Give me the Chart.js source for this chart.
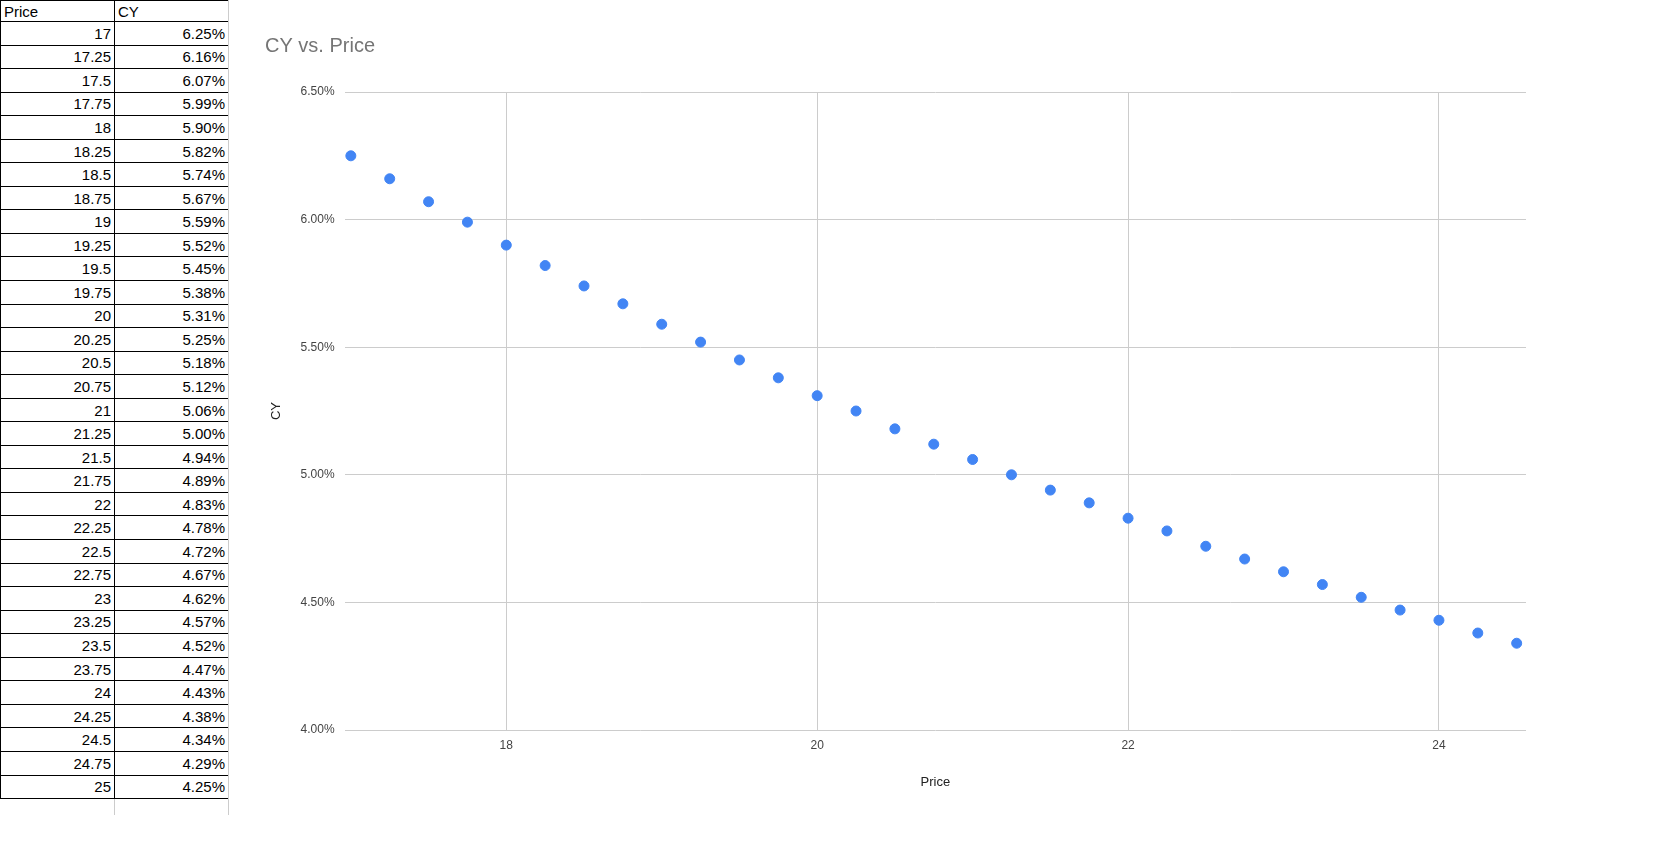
<!DOCTYPE html>
<html>
<head>
<meta charset="utf-8">
<script src="https://cdn.jsdelivr.net/npm/chart.js@4"></script>
<style>
  body { margin: 0; background: #fff; font-family: Arial, "Liberation Sans", sans-serif; }
  #sheet { position: absolute; left: 0; top: 0; border-collapse: collapse; }
  #sheet td { border: 1px solid #000; padding: 0 3px; font-size: 15px; height: 23.55px; box-sizing: border-box; width: 114px; text-align: right; }
  #sheet tr.head td { text-align: left; height: 21px; }
  #sheet tr.blank td { border: none; border-right: 1px solid #ccc; height: 16px; }
  #wrap { position: absolute; left: 228px; top: 0; width: 1437px; height: 814px; border-left: 1px solid #ccc; }
</style>
</head>
<body>
<table id="sheet"></table>
<div id="wrap"><canvas id="chart"></canvas></div>
<script>
const prices = [17, 17.25, 17.5, 17.75, 18, 18.25, 18.5, 18.75, 19, 19.25, 19.5, 19.75, 20, 20.25, 20.5, 20.75, 21, 21.25, 21.5, 21.75, 22, 22.25, 22.5, 22.75, 23, 23.25, 23.5, 23.75, 24, 24.25, 24.5, 24.75, 25];
const cy = [6.25, 6.16, 6.07, 5.99, 5.90, 5.82, 5.74, 5.67, 5.59, 5.52, 5.45, 5.38, 5.31, 5.25, 5.18, 5.12, 5.06, 5.00, 4.94, 4.89, 4.83, 4.78, 4.72, 4.67, 4.62, 4.57, 4.52, 4.47, 4.43, 4.38, 4.34, 4.29, 4.25];
const yTicks = [4.0, 4.5, 5.0, 5.5, 6.0, 6.5];

const sheet = document.querySelector("#sheet");
let html = '<tr class="head"><td>Price</td><td>CY</td></tr>';
prices.forEach((p, i) => {
  html += `<tr><td>${p}</td><td>${cy[i].toFixed(2)}%</td></tr>`;
});
html += '<tr class="blank"><td></td><td></td></tr>';
sheet.innerHTML = html;

new Chart(document.querySelector("#chart"), {
  type: "scatter",
  data: {
    datasets: [{
      data: prices.map((p, i) => ({ x: p, y: cy[i] })),
      backgroundColor: "#4285f4",
      borderColor: "#4285f4",
      pointRadius: 5,
    }],
  },
  options: {
    responsive: true,
    maintainAspectRatio: false,
    animation: false,
    layout: { padding: { left: 36, right: 140, top: 10, bottom: 20 } },
    plugins: {
      legend: { display: false },
      tooltip: { enabled: false },
      title: {
        display: true,
        text: "CY vs. Price",
        align: "start",
        color: "#757575",
        font: { size: 20, family: "Arial, 'Liberation Sans', sans-serif", weight: "normal" },
        padding: { top: 24, bottom: 34 },
      },
    },
    scales: {
      x: {
        type: "linear",
        min: 16.96,
        max: 24.56,
        afterBuildTicks: (axis) => { axis.ticks = [18, 20, 22, 24].map((v) => ({ value: v })); },
        grid: { color: "#cccccc", drawTicks: false },
        border: { display: false },
        ticks: { color: "#444", font: { size: 12 }, padding: 8 },
        title: { display: true, text: "Price", color: "#222", font: { size: 13 }, padding: { top: 14 } },
      },
      y: {
        min: 4.0,
        max: 6.5,
        afterBuildTicks: (axis) => { axis.ticks = yTicks.map((v) => ({ value: v })); },
        grid: { color: "#cccccc", drawTicks: false },
        border: { display: false },
        ticks: { color: "#444", font: { size: 12 }, padding: 10, callback: (v) => v.toFixed(2) + "%" },
        title: { display: true, text: "CY", color: "#222", font: { size: 13 }, padding: { bottom: 6 } },
      },
    },
  },
});
</script>
</body>
</html>
